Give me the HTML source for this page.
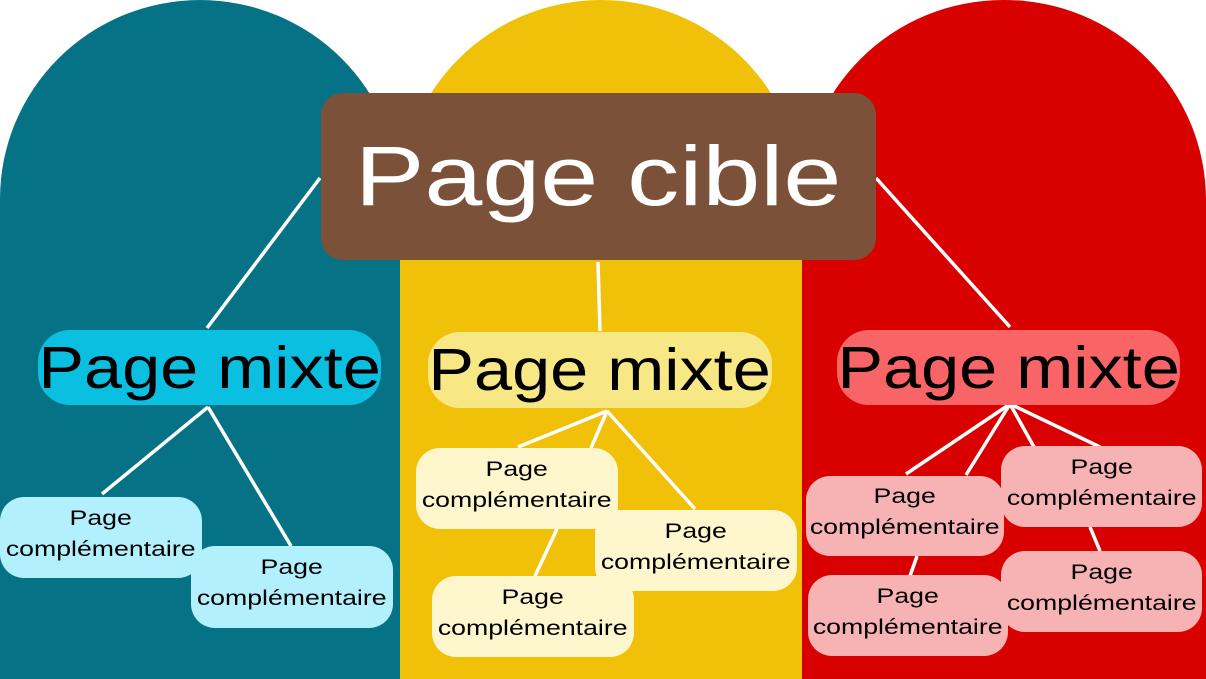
<!DOCTYPE html>
<html><head><meta charset="utf-8"><style>
*{margin:0;padding:0;box-sizing:border-box}
body{width:1206px;height:679px;position:relative;overflow:hidden;background:#fff;font-family:"Liberation Sans",sans-serif}
.arch{position:absolute;top:0;height:679px;border-radius:201px 201px 0 0/200px 200px 0 0}
.b{position:absolute;display:flex;align-items:center;justify-content:center;text-align:center;color:#000}
.b span{display:inline-block;white-space:nowrap}
.s{font-size:21px;line-height:31px;border-radius:24px;padding-bottom:8px}
.s span{transform:scaleX(1.27)}
.m{font-size:59px;border-radius:32px}
.m span{transform:scaleX(1.16)}
svg{position:absolute;left:0;top:0}
</style></head><body>
<div class="arch" style="left:0;width:400px;background:#067286"></div>
<div class="arch" style="left:400px;width:402px;background:#F0C108"></div>
<div class="arch" style="left:802px;width:404px;background:#D90000"></div>
<svg width="1206" height="679"><g stroke="#fff" stroke-width="3.5" fill="none">
<line x1="320" y1="178" x2="207" y2="328"/><line x1="598" y1="262" x2="600" y2="331"/><line x1="876" y1="178" x2="1010" y2="327"/>
<line x1="208" y1="407" x2="102" y2="494"/><line x1="208" y1="407" x2="291" y2="546"/>
<line x1="607" y1="411" x2="518" y2="447"/><line x1="607" y1="411" x2="591" y2="448"/><line x1="607" y1="411" x2="695" y2="509"/><line x1="557" y1="529" x2="535" y2="576"/>
<line x1="1010" y1="404" x2="906" y2="474"/><line x1="1010" y1="404" x2="966" y2="475"/><line x1="1010" y1="404" x2="1034" y2="447"/><line x1="1010" y1="404" x2="1100" y2="447"/><line x1="917" y1="556" x2="910" y2="576"/><line x1="1090" y1="527" x2="1100" y2="551"/>
</g></svg>
<div class="b" style="left:321px;top:93px;width:555px;height:167px;background:#7B5239;color:#fff;font-size:84px;border-radius:22px"><span style="transform:scaleX(1.24)">Page cible</span></div>
<div class="b m" style="left:38px;top:330px;width:343px;height:75px;background:#0BBFE0"><span>Page mixte</span></div>
<div class="b m" style="left:428px;top:332px;width:344px;height:76px;background:#F7E785"><span>Page mixte</span></div>
<div class="b m" style="left:837px;top:330px;width:343px;height:75px;background:#F96566"><span>Page mixte</span></div>
<div class="b s" style="left:0;top:497px;width:202px;height:81px;background:#B3F0FD"><span>Page<br>complémentaire</span></div>
<div class="b s" style="left:191px;top:546px;width:202px;height:82px;background:#B3F0FD"><span>Page<br>complémentaire</span></div>
<div class="b s" style="left:416px;top:448px;width:202px;height:81px;background:#FEF7CE"><span>Page<br>complémentaire</span></div>
<div class="b s" style="left:595px;top:510px;width:202px;height:81px;background:#FEF7CE"><span>Page<br>complémentaire</span></div>
<div class="b s" style="left:432px;top:576px;width:202px;height:81px;background:#FEF7CE"><span>Page<br>complémentaire</span></div>
<div class="b s" style="left:806px;top:476px;width:198px;height:80px;background:#F7B3B3"><span>Page<br>complémentaire</span></div>
<div class="b s" style="left:1001px;top:446px;width:201px;height:81px;background:#F7B3B3"><span>Page<br>complémentaire</span></div>
<div class="b s" style="left:808px;top:575px;width:200px;height:81px;background:#F7B3B3"><span>Page<br>complémentaire</span></div>
<div class="b s" style="left:1001px;top:551px;width:201px;height:81px;background:#F7B3B3"><span>Page<br>complémentaire</span></div>
</body></html>
